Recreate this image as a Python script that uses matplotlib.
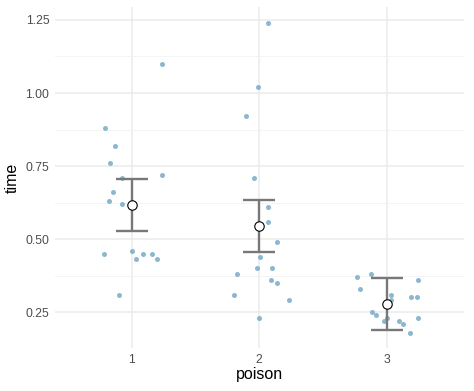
import numpy as np
import matplotlib
matplotlib.use('Agg')
import matplotlib.pyplot as plt

plt.rcParams['font.family'] = ['Liberation Sans', 'DejaVu Sans']

# survival times, grouped by poison
time_p1 = [1.10, 0.88, 0.82, 0.76, 0.72, 0.71, 0.66, 0.63, 0.62, 0.45, 0.46, 0.43, 0.45, 0.45, 0.43, 0.31]
time_p2 = [1.24, 1.02, 0.92, 0.71, 0.61, 0.56, 0.49, 0.44, 0.40, 0.40, 0.38, 0.36, 0.35, 0.31, 0.29, 0.23]
time_p3 = [0.37, 0.38, 0.36, 0.33, 0.31, 0.30, 0.30, 0.29, 0.25, 0.24, 0.23, 0.22, 0.23, 0.22, 0.21, 0.18]

# horizontal jitter of each point (category units), as seen in the picture
jit_p1 = [0.235, -0.211, -0.128, -0.170, 0.240, -0.078, -0.149, -0.180, -0.074, -0.219, 0.005, 0.031, 0.086, 0.159, 0.200, -0.102]
jit_p2 = [0.070, -0.008, -0.102, -0.039, 0.070, 0.070, 0.141, 0.008, -0.020, 0.097, -0.172, 0.094, 0.141, -0.200, 0.233, -0.002]
jit_p3 = [-0.233, -0.125, 0.245, -0.209, 0.031, 0.188, 0.237, 0.031, -0.117, -0.089, 0.0, -0.021, 0.245, 0.096, 0.123, 0.178]

poison = ['1', '2', '3']
mean_time = [0.6175, 0.5444, 0.2763]
ci_low = [0.529, 0.456, 0.188]
ci_high = [0.706, 0.633, 0.365]

groups = [time_p1, time_p2, time_p3]
jitters = [jit_p1, jit_p2, jit_p3]

fig = plt.figure(figsize=(4.74, 3.91), dpi=100)
ax = fig.add_axes([0.116, 0.110, 0.862, 0.871])

for i in range(3):
    x = i + 1 + np.array(jitters[i])
    ax.scatter(x, groups[i], s=13, color='#6FA6C4', alpha=0.8, linewidths=0, zorder=3)

xpos = np.arange(1, 4)
m = np.array(mean_time)
err = [m - np.array(ci_low), np.array(ci_high) - m]
ax.errorbar(xpos, m, yerr=err, fmt='none', ecolor='#787878', elinewidth=1.7,
            capsize=11.5, capthick=1.7, zorder=4)
ax.plot(xpos, m, 'o', ms=6.8, mfc='white', mec='black', mew=0.8, zorder=5)

ax.set_xlim(0.4, 3.6)
ax.set_ylim(0.127, 1.293)
ax.set_xticks(xpos)
ax.set_xticklabels(poison)
ax.set_yticks([0.25, 0.50, 0.75, 1.00, 1.25])
ax.set_yticklabels(['0.25', '0.50', '0.75', '1.00', '1.25'])
ax.set_yticks([0.375, 0.625, 0.875, 1.125], minor=True)

ax.grid(True, which='major', color='#EBEBEB', lw=1.1, zorder=0)
ax.grid(True, which='minor', axis='y', color='#F2F2F2', lw=0.6, zorder=0)
ax.set_axisbelow(True)
for s in ax.spines.values():
    s.set_visible(False)
ax.tick_params(which='both', length=0, labelsize=8.8, labelcolor='#4D4D4D', pad=4)

ax.set_xlabel('poison', fontsize=11.5, labelpad=1)
ax.set_ylabel('time', fontsize=11.5, labelpad=4)

fig.savefig('out.png', dpi=100)
